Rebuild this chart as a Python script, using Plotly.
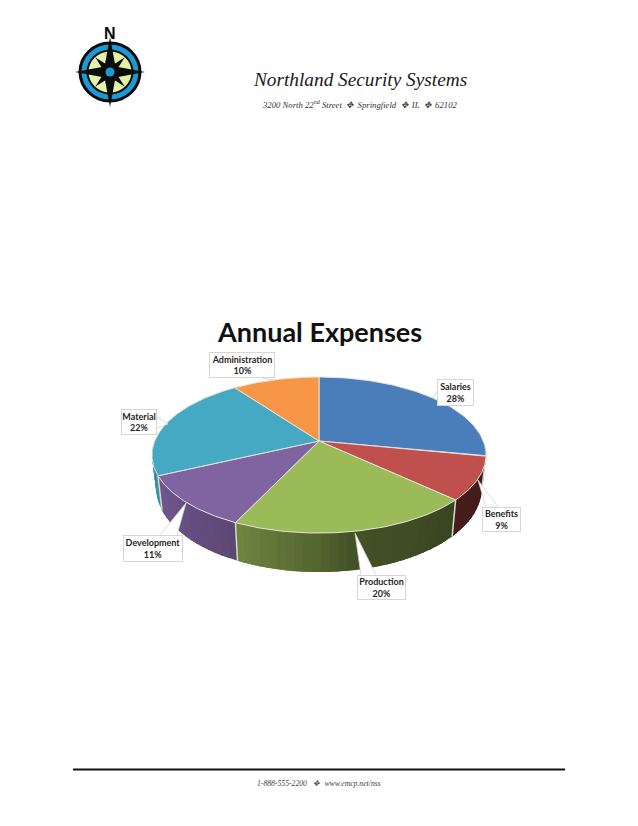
import numpy as np
import plotly.graph_objects as go

CATEGORIES = ["Salaries", "Benefits", "Production", "Development", "Material", "Administration"]
VALUES = [28, 9, 20, 11, 22, 10]
TOP_COLORS = ["#4a7ebb", "#c0504d", "#9bbb59", "#8064a2", "#45a9c4", "#f79646"]
TITLE = "Annual Expenses"
COMPANY = "Northland Security Systems"

# Geometry of the tilted pie (page pixels, y down)
CX, CY, A, B, K, DEPTH, BOTTOM_X = 319.0, 441.0, 164.3, 75.5, 0.18, 32.0, 0.975
SHADE_ANGLE = [90, 133, 170, 180, 205, 245, 270]
SHADE_VALUE = [0.33, 0.37, 0.44, 0.54, 0.72, 0.88, 0.80]


def top(theta):
    t = np.radians(theta)
    u, v = np.sin(t), np.cos(t)
    w = 1 + K * v
    return CX + A * u / w, CY - B * v / w


def bottom(theta):
    t = np.radians(theta)
    u, v = np.sin(t), np.cos(t)
    w = 1 + K * v
    return CX + BOTTOM_X * A * u / w, CY - B * v / w + DEPTH / w


def rgb(hexc, s=1.0):
    r, g, b = (int(hexc[i:i + 2], 16) for i in (1, 3, 5))
    return f"rgb({int(r * s)},{int(g * s)},{int(b * s)})"


fig = go.Figure()
edges = np.concatenate([[0], np.cumsum(VALUES)]) * 3.6

# walls, as overlapping shaded strips so that no seams show between them
for i in range(len(VALUES)):
    lo, hi = max(edges[i], 90), min(edges[i + 1], 270)
    if hi <= lo:
        continue
    n = max(2, int((hi - lo) / 2.5))
    th = np.linspace(lo, hi, n + 1)
    step = th[1] - th[0]
    for a in th[:-1]:
        b = min(a + 2.2 * step, hi)
        xa, ya = top(a); xb, yb = top(b)
        xc, yc = bottom(b); xd, yd = bottom(a)
        col = rgb(TOP_COLORS[i], float(np.interp(a + step / 2, SHADE_ANGLE, SHADE_VALUE)))
        fig.add_trace(go.Scatter(x=[xa, xb, xc, xd, xa], y=[ya, yb, yc, yd, ya], mode="lines",
                                 fill="toself", fillcolor=col, line=dict(color=col, width=0),
                                 hoverinfo="skip", showlegend=False))
    if 90 < edges[i] < 270:
        xa, ya = top(edges[i]); xd, yd = bottom(edges[i])
        fig.add_trace(go.Scatter(x=[xa, xd], y=[ya, yd], mode="lines",
                                 line=dict(color="#d5d8c8", width=1.5),
                                 hoverinfo="skip", showlegend=False))

# top faces
for i in range(len(VALUES)):
    th = np.linspace(edges[i], edges[i + 1], 80)
    xs, ys = top(th)
    fig.add_trace(go.Scatter(x=np.r_[CX, xs, CX], y=np.r_[CY, ys, CY], mode="lines", fill="toself",
                             fillcolor=TOP_COLORS[i], line=dict(color="#e6e1da", width=1),
                             name=CATEGORIES[i], hoverinfo="name", showlegend=False))

shapes = []


def poly(pts, fill, line="rgba(0,0,0,0)", width=0):
    path = "M " + " L ".join(f"{x:.2f} {y:.2f}" for x, y in pts) + " Z"
    shapes.append(dict(type="path", path=path, fillcolor=fill, line=dict(color=line, width=width), layer="above"))


def ell(cx, cy, rx, ry, fill):
    shapes.append(dict(type="circle", x0=cx - rx, x1=cx + rx, y0=cy - ry, y1=cy + ry,
                       fillcolor=fill, line=dict(width=0), layer="above"))


# label boxes: centre x, centre y, width, height, leader tip, leader base on the box
BOXES = {
    "Salaries": (455.5, 392.5, 37, 27, (433, 398), (437, 391), (437, 400)),
    "Benefits": (501.5, 519.5, 39, 25, (478, 480), (486, 507), (498, 507)),
    "Production": (381.5, 587.5, 49, 25, (355, 533), (361, 575), (376, 575)),
    "Development": (153, 548.5, 60, 27, (186, 503), (160, 535), (177, 535)),
    "Material": (139, 422, 36, 26, (168, 424), (157, 417), (157, 428)),
    "Administration": (242, 365, 66, 26, (273, 380), (262, 378), (275, 372)),
}
annotations = []
for name, value in zip(CATEGORIES, VALUES):
    cx, cy, w, h, tip, p, q = BOXES[name]
    poly([tip, p, q], "white")
    shapes.append(dict(type="path", path=f"M {p[0]} {p[1]} L {tip[0]} {tip[1]} L {q[0]} {q[1]}",
                       line=dict(color="#d2d2d2", width=0.8), layer="above"))
    annotations.append(dict(x=cx, y=cy, xref="x", yref="y", showarrow=False, align="center",
                            text=f"<b>{name}<br>{value}%</b>", width=w - 2, height=h - 2,
                            bgcolor="white", bordercolor="#d6d6d6", borderwidth=1, borderpad=0,
                            font=dict(family="Lato, sans-serif", size=9, color="#262626")))

# compass logo
LX, LY = 110, 72
ell(LX, LY, 31.5, 30.5, "#0b0b0b")
ell(LX, LY, 28.5, 27.5, "#1c9ad6")
ell(LX, LY, 23.5, 22.5, "#0b0b0b")
ell(LX, LY, 21.5, 20.5, "#e3f2a4")
for ang in (45, 135, 225, 315):
    t = np.radians(ang)
    n = np.array([np.sin(t), -np.cos(t)])
    p = np.array([np.cos(t), np.sin(t)])
    c = np.array([LX, LY])
    poly([c + p * 21, c + n * 4.5, c - n * 4.5], "#0b0b0b")
for ang in (0, 90, 180, 270):
    t = np.radians(ang)
    n = np.array([np.sin(t), -np.cos(t)])
    p = np.array([np.cos(t), np.sin(t)])
    c = np.array([LX, LY])
    poly([c + p * 35, c + n * 6.5, c - n * 6.5], "#0b0b0b")
ell(LX, LY, 4.5, 4.5, "#1c9ad6")

# footer rule
shapes.append(dict(type="line", x0=73, x1=565, y0=769.5, y1=769.5, line=dict(color="#111111", width=2), layer="above"))


def text(x, y, s, family, size, color="#1a1a1a", anchor="center"):
    annotations.append(dict(x=x, y=y, xref="x", yref="y", text=s, showarrow=False, xanchor=anchor, yanchor="middle",
                            font=dict(family=family, size=size, color=color)))


SERIF = "Liberation Serif, serif"
text(110, 33, "<b>N</b>", "Liberation Sans, sans-serif", 16, "#0b0b0b")
text(359.5, 79.5, f"<i>{COMPANY}</i>", SERIF, 19.3)
text(359.5, 104.5, "<i>3200 North 22<sup>nd</sup> Street  \u2725  Springfield  \u2725  IL  \u2725  62102</i>", SERIF, 8.7, "#333333")
text(319, 331, f"<b>{TITLE}</b>", "Lato, sans-serif", 27, "#111111")
text(318.5, 783, "<i>1-888-555-2200   \u2725   www.emcp.net/nss</i>", SERIF, 7.7, "#444444")

fig.update_layout(width=638, height=826, margin=dict(l=0, r=0, t=0, b=0), paper_bgcolor="white",
                  plot_bgcolor="white", showlegend=False, shapes=shapes, annotations=annotations,
                  xaxis=dict(range=[0, 638], visible=False, fixedrange=True),
                  yaxis=dict(range=[826, 0], visible=False, fixedrange=True))
fig.write_html("out.html", config=dict(displayModeBar=False),
               post_script="document.body.style.margin='0';document.body.style.overflow='hidden';")
